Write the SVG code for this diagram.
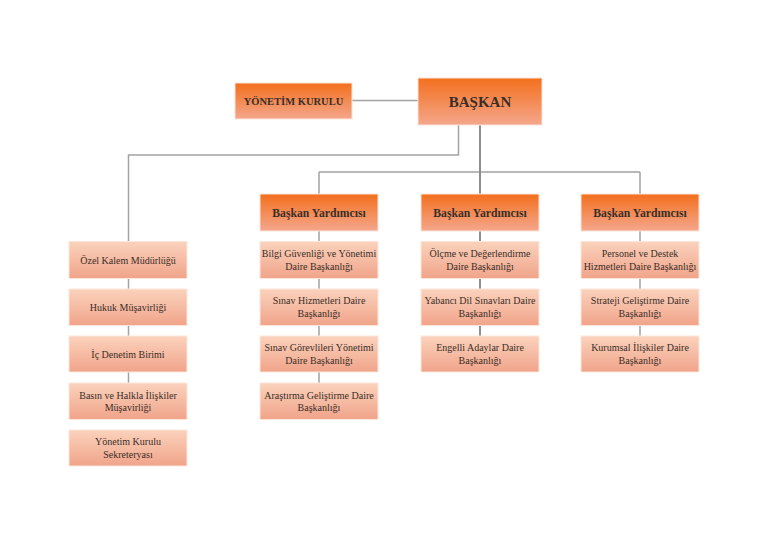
<svg xmlns="http://www.w3.org/2000/svg" width="768" height="543" viewBox="0 0 768 543">
<defs>
<linearGradient id="gTop" x1="0" y1="0" x2="0" y2="1">
<stop offset="0" stop-color="#F36F1C"/>
<stop offset="1" stop-color="#F4A78C"/>
</linearGradient>
<linearGradient id="gSub" x1="0" y1="0" x2="0" y2="1">
<stop offset="0" stop-color="#FBD2BC"/>
<stop offset="1" stop-color="#F0A48A"/>
</linearGradient>
<style>
.top{fill:url(#gTop);stroke:#FBE3D8;stroke-width:1}
.sub{fill:url(#gSub);stroke:#FCE6DA;stroke-width:1}
text{font-family:'Liberation Serif','DejaVu Serif',serif;fill:#3a2e28;text-anchor:middle}
.b{font-weight:bold}
.s{font-size:10px}
.c{fill:none;stroke:#a3a3a3;stroke-width:1.5}
.c2{fill:none;stroke:#8e8e8e;stroke-width:2}
</style>
</defs>
<rect width="768" height="543" fill="#ffffff"/>
<g id="connectors">
<path class="c" d="M352 100.5H418"/>
<path class="c" d="M458.5 125V155H128.5V395"/>
<path class="c" d="M319 172H640M319 172V400M640 172V360"/>
<path class="c2" d="M480 125V360"/>
</g>
<g font-family="Liberation Serif, serif">
<g id="yonetim-kurulu"><rect class="top" x="235" y="83" width="117" height="36"/><text class="b" x="293.5" y="105" font-size="10.5">YÖNETİM KURULU</text></g>
<g id="baskan"><rect class="top" x="418" y="78" width="124" height="47"/><text class="b" x="480" y="107" font-size="15">BAŞKAN</text></g>
<g id="by1"><rect class="top" x="260" y="194" width="118" height="37"/><text class="b" x="319" y="216.5" font-size="11.7">Başkan Yardımcısı</text></g>
<g id="by2"><rect class="top" x="421" y="194" width="118" height="37"/><text class="b" x="480" y="216.5" font-size="11.7">Başkan Yardımcısı</text></g>
<g id="by3"><rect class="top" x="581" y="194" width="118" height="37"/><text class="b" x="640" y="216.5" font-size="11.7">Başkan Yardımcısı</text></g>

<g id="ozel-kalem"><rect class="sub" x="69" y="241.5" width="118" height="37"/><text class="s" x="128" y="263.5">Özel Kalem Müdürlüğü</text></g>
<g id="hukuk"><rect class="sub" x="69" y="289" width="118" height="36.5"/><text class="s" x="128" y="310.5">Hukuk Müşavirliği</text></g>
<g id="ic-denetim"><rect class="sub" x="69" y="336" width="118" height="36"/><text class="s" x="128" y="357.5">İç Denetim Birimi</text></g>
<g id="basin"><rect class="sub" x="69" y="383" width="118" height="36.5"/><text class="s" x="128" y="398.5">Basın ve Halkla İlişkiler</text><text class="s" x="128" y="411">Müşavirliği</text></g>
<g id="yks"><rect class="sub" x="69" y="430" width="118" height="36"/><text class="s" x="128" y="445">Yönetim Kurulu</text><text class="s" x="128" y="457.5">Sekreteryası</text></g>

<g id="bilgi"><rect class="sub" x="260" y="241.5" width="118" height="37"/><text class="s" x="319" y="257">Bilgi Güvenliği ve Yönetimi</text><text class="s" x="319" y="269.5">Daire Başkanlığı</text></g>
<g id="sinav-hizmetleri"><rect class="sub" x="260" y="289" width="118" height="36.5"/><text class="s" x="319" y="304">Sınav Hizmetleri Daire</text><text class="s" x="319" y="316.5">Başkanlığı</text></g>
<g id="sinav-gorevlileri"><rect class="sub" x="260" y="336" width="118" height="36"/><text class="s" x="319" y="351">Sınav Görevlileri Yönetimi</text><text class="s" x="319" y="363.5">Daire Başkanlığı</text></g>
<g id="arastirma"><rect class="sub" x="260" y="383" width="118" height="36.5"/><text class="s" x="319" y="398.5">Araştırma Geliştirme Daire</text><text class="s" x="319" y="411">Başkanlığı</text></g>

<g id="olcme"><rect class="sub" x="421" y="241.5" width="118" height="37"/><text class="s" x="480" y="257">Ölçme ve Değerlendirme</text><text class="s" x="480" y="269.5">Daire Başkanlığı</text></g>
<g id="yabanci-dil"><rect class="sub" x="421" y="289" width="118" height="36.5"/><text class="s" x="480" y="304">Yabancı Dil Sınavları Daire</text><text class="s" x="480" y="316.5">Başkanlığı</text></g>
<g id="engelli"><rect class="sub" x="421" y="336" width="118" height="36"/><text class="s" x="480" y="351">Engelli Adaylar Daire</text><text class="s" x="480" y="363.5">Başkanlığı</text></g>

<g id="personel"><rect class="sub" x="581" y="241.5" width="118" height="37"/><text class="s" x="640" y="257">Personel ve Destek</text><text class="s" x="640" y="269.5">Hizmetleri Daire Başkanlığı</text></g>
<g id="strateji"><rect class="sub" x="581" y="289" width="118" height="36.5"/><text class="s" x="640" y="304">Strateji Geliştirme Daire</text><text class="s" x="640" y="316.5">Başkanlığı</text></g>
<g id="kurumsal"><rect class="sub" x="581" y="336" width="118" height="36"/><text class="s" x="640" y="351">Kurumsal İlişkiler Daire</text><text class="s" x="640" y="363.5">Başkanlığı</text></g>
</g>
</svg>
